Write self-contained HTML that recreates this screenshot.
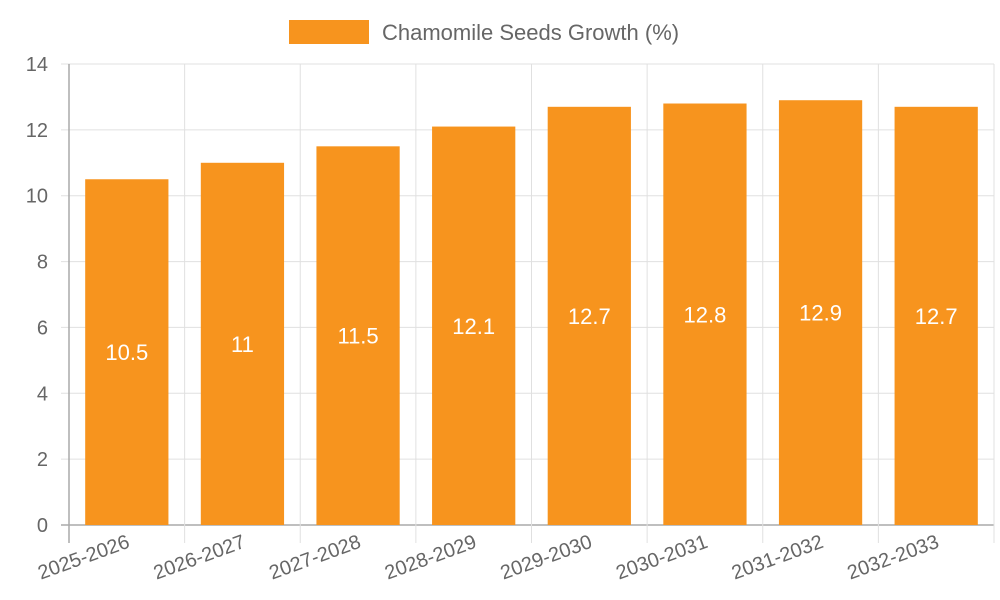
<!DOCTYPE html>
<html><head><meta charset="utf-8"><style>
body{margin:0;background:#fff}
svg{display:block;font-family:"Liberation Sans",sans-serif}
</style></head><body>
<svg id="chart" width="1000" height="600">
<g>
<rect x="289" y="20" width="80" height="24" fill="#F7941E"/>
<text x="382" y="40" font-size="22" fill="#666">Chamomile Seeds Growth (%)</text>
</g>
<g id="grid"></g><g id="bars"></g><g id="labels"></g>
</svg>
<script>
const categories=["2025-2026","2026-2027","2027-2028","2028-2029","2029-2030","2030-2031","2031-2032","2032-2033"];
const values=[10.5,11,11.5,12.1,12.7,12.8,12.9,12.7];
const yTicks=[0,2,4,6,8,10,12,14];
const NS="http://www.w3.org/2000/svg";
const L=69,R=994,T=64,B=525,yMax=14;
const bw=(R-L)/categories.length;
const y=v=>B-(v/yMax)*(B-T);
const x=i=>L+bw*i;
function mk(tag,attrs,parent){const e=document.createElementNS(NS,tag);for(const k in attrs)e.setAttribute(k,attrs[k]);document.getElementById(parent).appendChild(e);return e;}
yTicks.forEach(t=>{
 const l=mk("line",{x1:61,x2:R,y1:y(t),y2:y(t),stroke:t===0?"#aaa":"#e0e0e0","stroke-width":t===0?1.5:1},"grid");
 
 
 const tx=mk("text",{x:48,y:y(t)+7,"font-size":20,fill:"#666","text-anchor":"end"},"grid");
 tx.textContent=t;
 
 
});
for(let i=0;i<=categories.length;i++){
 const l=mk("line",{x1:x(i),x2:x(i),y1:T,y2:B+18,stroke:i===0?"#aaa":"#e0e0e0","stroke-width":i===0?1.5:1},"grid");
 
 
}
categories.forEach((c,i)=>{
 const cx=x(i)+bw/2,w=bw*0.72;
 const r=mk("rect",{x:cx-w/2,y:y(values[i]),width:w,height:B-y(values[i]),fill:"#F7941E"},"bars");
 
 
 const v=mk("text",{x:cx,y:(y(values[i])+B)/2+8,"font-size":22,fill:"#fff","text-anchor":"middle"},"labels");
 v.textContent=values[i];
 
 
 const t=mk("text",{x:cx+4,y:B+22,"font-size":20,fill:"#666","text-anchor":"end",transform:`rotate(-20 ${cx+4} ${B+22})`},"labels");
 t.textContent=c;
 
 
});
</script>
</body></html>
